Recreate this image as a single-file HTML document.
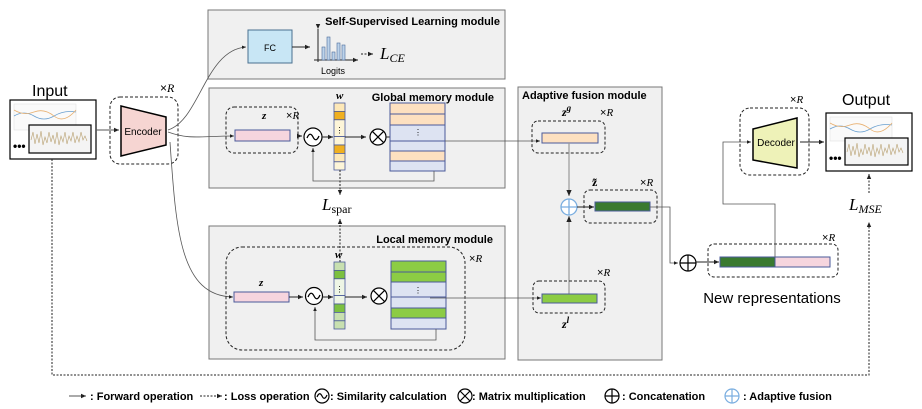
<!DOCTYPE html>
<html><head><meta charset="utf-8"><style>
html,body{margin:0;padding:0;background:#fff;}
svg{display:block;font-family:"Liberation Sans",sans-serif;}
.b{font-weight:bold;font-size:11px;}
.it{font-family:"Liberation Serif",serif;font-style:italic;}
</style></head><body>
<svg width="922" height="409" viewBox="0 0 922 409" xmlns="http://www.w3.org/2000/svg">
<defs>
<marker id="a" markerWidth="6" markerHeight="6" refX="5" refY="3" orient="auto"><path d="M0,0.8 L5,3 L0,5.2z" fill="#222"/></marker>
</defs>
<!-- module boxes -->
<rect x="208" y="10" width="297" height="69" fill="#f0f0f0" stroke="#777"/>
<rect x="209" y="88" width="296" height="100" fill="#f0f0f0" stroke="#777"/>
<rect x="209" y="226" width="296" height="133" fill="#f0f0f0" stroke="#777"/>
<rect x="518" y="87" width="144" height="273" fill="#f0f0f0" stroke="#777"/>
<text x="500" y="25" class="b" text-anchor="end">Self-Supervised Learning module</text>
<text x="494" y="101" class="b" text-anchor="end">Global memory module</text>
<text x="493" y="243" class="b" text-anchor="end">Local memory module</text>
<text x="522" y="99" class="b">Adaptive fusion module</text>

<!-- Input -->
<text x="32" y="96" font-size="16">Input</text>
<rect x="10" y="100" width="86" height="59" fill="#fff" stroke="#000" stroke-width="1.2"/>
<rect x="14" y="104" width="62" height="26" fill="#fafafa" stroke="#ddd" stroke-width="0.5"/>
<path d="M14,116 q10,-6 20,0 t20,0 t22,-4" fill="none" stroke="#6aa0d0" stroke-width="0.8"/>
<path d="M14,110 q10,6 20,2 t20,4 t22,-6" fill="none" stroke="#e8b070" stroke-width="0.8"/>
<rect x="29" y="125" width="62" height="28" fill="#f4f4f4" stroke="#000" stroke-width="1.2"/>
<path d="M31,140 l2,-8 l2,12 l2,-10 l2,9 l2,-12 l2,14 l2,-8 l2,6 l2,-11 l2,10 l2,-7 l2,9 l2,-12 l2,13 l2,-9 l2,6 l2,-10 l2,12 l2,-8 l2,5 l2,-9 l2,11 l2,-7 l2,6 l2,-10 l2,8 l2,-4 l2,5" fill="none" stroke="#b8a070" stroke-width="0.6"/>
<text x="13" y="150" font-size="12" font-weight="bold">•••</text>

<!-- Encoder -->
<rect x="110" y="97" width="68" height="67" rx="10" fill="none" stroke="#222" stroke-dasharray="3,2"/>
<text x="160" y="92" font-size="12"><tspan>×</tspan><tspan class="it">R</tspan></text>
<path d="M121,106 L166,117 L166,145 L121,156z" fill="#f6d5d2" stroke="#000" stroke-width="1.5"/>
<text x="143" y="135" font-size="10" text-anchor="middle">Encoder</text>
<line x1="96" y1="130" x2="119" y2="130" stroke="#555" marker-end="url(#a)"/>

<!-- encoder connections -->
<path d="M168,130 C200,120 205,50 246,47" fill="none" stroke="#555" stroke-width="0.8" marker-end="url(#a)"/>
<path d="M168,132 C190,140 200,136 234,136" fill="none" stroke="#555" stroke-width="0.8" marker-end="url(#a)"/>
<path d="M170,142 C176,230 180,296 233,297" fill="none" stroke="#555" stroke-width="0.8" marker-end="url(#a)"/>

<!-- SSL -->
<rect x="248" y="30" width="44" height="33" fill="#c8e6f5" stroke="#4a7090"/>
<text x="270" y="51" font-size="9" text-anchor="middle">FC</text>
<line x1="292" y1="47" x2="310" y2="47" stroke="#222" marker-end="url(#a)"/>
<line x1="318" y1="29" x2="318" y2="62" stroke="#222" marker-start="url(#a)"/>
<line x1="314" y1="60" x2="358" y2="60" stroke="#222" marker-end="url(#a)"/>
<g fill="#bcd3ea" stroke="#4a6a9a" stroke-width="0.6">
<rect x="322" y="47" width="3" height="13"/><rect x="327" y="37" width="3" height="23"/><rect x="332" y="52" width="3" height="8"/><rect x="337" y="43" width="3" height="17"/><rect x="342" y="45" width="3" height="15"/>
</g>
<text x="321" y="74" font-size="9">Logits</text>
<line x1="361" y1="54" x2="373" y2="54" stroke="#222" stroke-dasharray="2,1.5" marker-end="url(#a)"/>
<text x="380" y="59" font-size="17" class="it">L<tspan font-size="12" dy="3">CE</tspan></text>

<!-- Global -->
<text x="262" y="119" font-size="11" font-weight="bold" class="it">z</text>
<text x="286" y="119" font-size="11">×<tspan class="it">R</tspan></text>
<rect x="226" y="107" width="72" height="46" rx="8" fill="none" stroke="#222" stroke-dasharray="3,2"/>
<rect x="235" y="130" width="55" height="11" fill="#f6d5de" stroke="#4a5a9a"/>
<line x1="298" y1="136" x2="302" y2="136" stroke="#222" marker-end="url(#a)"/>
<circle cx="313" cy="137" r="9" fill="#fff" stroke="#000" stroke-width="1.2"/>
<path d="M307,138 q3,-7 6,-1 t6,-1" fill="none" stroke="#000" stroke-width="1.3"/>
<line x1="322" y1="137" x2="333" y2="137" stroke="#222" marker-end="url(#a)"/>
<text x="336" y="99" font-size="11" font-weight="bold" class="it">w</text>
<g stroke="#4a5a9a" stroke-width="0.8">
<rect x="334" y="103" width="11" height="8.4" fill="#fde8b8"/><rect x="334" y="111.4" width="11" height="8.4" fill="#f0b020"/><rect x="334" y="119.8" width="11" height="16.8" fill="#fdf5d8"/><rect x="334" y="136.6" width="11" height="8.4" fill="#fdf5d8"/><rect x="334" y="145" width="11" height="8.4" fill="#f0b020"/><rect x="334" y="153.4" width="11" height="8.4" fill="#fde8b8"/><rect x="334" y="161.8" width="11" height="8.2" fill="#fdf5d8"/>
</g>
<text x="339.5" y="133" font-size="8" text-anchor="middle">⋮</text>
<line x1="345" y1="137" x2="366" y2="137" stroke="#222" marker-end="url(#a)"/>
<circle cx="378" cy="137" r="8" fill="#fff" stroke="#000" stroke-width="1.2"/>
<path d="M372.3,131.3 L383.7,142.7 M383.7,131.3 L372.3,142.7" stroke="#000" stroke-width="1.2"/>
<line x1="386" y1="137" x2="390" y2="137" stroke="#222"/>
<g stroke="#4a5a9a" stroke-width="1">
<rect x="390" y="103" width="55" height="11" fill="#fde0c0"/><rect x="390" y="114" width="55" height="11" fill="#fde0c0"/><rect x="390" y="125" width="55" height="16" fill="#dde3f2"/><rect x="390" y="141" width="55" height="10" fill="#dde3f2"/><rect x="390" y="151" width="55" height="10" fill="#fde0c0"/><rect x="390" y="161" width="55" height="10" fill="#dde3f2"/>
</g>
<text x="418" y="135" font-size="8" text-anchor="middle">⋮</text>
<polyline points="434,171 434,181 313,181 313,148" fill="none" stroke="#555" stroke-width="0.8" marker-end="url(#a)"/>
<line x1="340" y1="170" x2="340" y2="195" stroke="#222" stroke-dasharray="2,1.5" marker-end="url(#a)"/>
<text x="322" y="210" font-size="17" class="it">L<tspan font-size="12" dy="3" font-style="normal">spar</tspan></text>
<line x1="340" y1="262" x2="340" y2="219" stroke="#222" stroke-dasharray="2,1.5" marker-end="url(#a)"/>
<line x1="445" y1="141" x2="540" y2="141" stroke="#555" stroke-width="0.8" marker-end="url(#a)"/>

<!-- Local -->
<rect x="226" y="247" width="239" height="103" rx="16" fill="none" stroke="#222" stroke-dasharray="3,2"/>
<text x="469" y="262" font-size="11">×<tspan class="it">R</tspan></text>
<text x="259" y="286" font-size="11" font-weight="bold" class="it">z</text>
<rect x="234" y="292" width="55" height="10" fill="#f6d5de" stroke="#4a5a9a"/>
<line x1="289" y1="297" x2="303" y2="297" stroke="#222" marker-end="url(#a)"/>
<circle cx="314" cy="296" r="8.5" fill="#fff" stroke="#000" stroke-width="1.2"/>
<path d="M308,297 q3,-7 6,-1 t6,-1" fill="none" stroke="#000" stroke-width="1.3"/>
<line x1="322" y1="297" x2="333" y2="297" stroke="#222" marker-end="url(#a)"/>
<text x="335" y="258" font-size="11" font-weight="bold" class="it">w</text>
<g stroke="#4a5a9a" stroke-width="0.8">
<rect x="334" y="262" width="11" height="8.4" fill="#c8e0b0"/><rect x="334" y="270.4" width="11" height="8.4" fill="#7cc040"/><rect x="334" y="278.8" width="11" height="16.8" fill="#eef5e5"/><rect x="334" y="295.6" width="11" height="8.4" fill="#eef5e5"/><rect x="334" y="304" width="11" height="8.4" fill="#7cc040"/><rect x="334" y="312.4" width="11" height="8.4" fill="#c8e0b0"/><rect x="334" y="320.8" width="11" height="8.2" fill="#c8e0b0"/>
</g>
<text x="339.5" y="292" font-size="8" text-anchor="middle">⋮</text>
<line x1="345" y1="297" x2="367" y2="297" stroke="#222" marker-end="url(#a)"/>
<circle cx="379" cy="296" r="8" fill="#fff" stroke="#000" stroke-width="1.2"/>
<path d="M373.3,290.3 L384.7,301.7 M384.7,290.3 L373.3,301.7" stroke="#000" stroke-width="1.2"/>
<g stroke="#4a5a9a" stroke-width="1">
<rect x="391" y="261" width="55" height="11" fill="#8ccc44"/><rect x="391" y="272" width="55" height="10" fill="#8ccc44"/><rect x="391" y="282" width="55" height="15" fill="#dde3f2"/><rect x="391" y="297" width="55" height="11" fill="#dde3f2"/><rect x="391" y="308" width="55" height="10" fill="#8ccc44"/><rect x="391" y="318" width="55" height="11" fill="#dde3f2"/>
</g>
<text x="418" y="293" font-size="8" text-anchor="middle">⋮</text>
<polyline points="436,329 436,340 315,340 315,307" fill="none" stroke="#555" stroke-width="0.8" marker-end="url(#a)"/>
<line x1="430" y1="298" x2="541" y2="298" stroke="#555" stroke-width="0.8" marker-end="url(#a)"/>

<!-- Adaptive fusion -->
<text x="562" y="116" font-size="12" font-weight="bold" font-family="Liberation Serif" font-style="italic">z<tspan font-size="9" dy="-5">g</tspan></text>
<text x="600" y="116" font-size="11">×<tspan class="it">R</tspan></text>
<rect x="532" y="121" width="73" height="32" rx="6" fill="none" stroke="#222" stroke-dasharray="3,2"/>
<rect x="542" y="133" width="56" height="10" fill="#fde0c0" stroke="#4a5a9a"/>
<line x1="569" y1="143" x2="569" y2="196" stroke="#999" stroke-width="1.2" marker-end="url(#a)"/>
<line x1="569" y1="294" x2="569" y2="216" stroke="#999" stroke-width="1.2" marker-end="url(#a)"/>
<circle cx="569" cy="207" r="8" fill="#fff" stroke="#7aaee0" stroke-width="1.3"/>
<path d="M561,207 H577 M569,199 V215" stroke="#7aaee0" stroke-width="1.3"/>
<line x1="577" y1="207" x2="594" y2="207" stroke="#222" marker-end="url(#a)"/>
<text x="592" y="186" font-size="12" font-weight="bold" font-family="Liberation Serif">z̃</text>
<text x="640" y="186" font-size="11">×<tspan class="it">R</tspan></text>
<rect x="584" y="190" width="73" height="33" rx="6" fill="none" stroke="#222" stroke-dasharray="3,2"/>
<rect x="595" y="202" width="55" height="9" fill="#3a7a30" stroke="#4a5a9a"/>
<text x="597" y="276" font-size="11">×<tspan class="it">R</tspan></text>
<rect x="533" y="281" width="72" height="32" rx="6" fill="none" stroke="#222" stroke-dasharray="3,2"/>
<rect x="542" y="294" width="55" height="9" fill="#8ccc44" stroke="#4a5a9a"/>
<text x="562" y="328" font-size="12" font-weight="bold" font-family="Liberation Serif" font-style="italic">z<tspan font-size="9" dy="-5">l</tspan></text>

<!-- concat -->
<polyline points="650,207 670,207 670,263 678,263" fill="none" stroke="#555" stroke-width="0.8" marker-end="url(#a)"/>
<circle cx="688" cy="263" r="8" fill="#fff" stroke="#000" stroke-width="1.2"/>
<path d="M680,263 H696 M688,255 V271" stroke="#000" stroke-width="1.2"/>
<line x1="696" y1="262" x2="719" y2="262" stroke="#222" marker-end="url(#a)"/>
<text x="822" y="241" font-size="11">×<tspan class="it">R</tspan></text>
<rect x="708" y="244" width="130" height="33" rx="6" fill="none" stroke="#222" stroke-dasharray="3,2"/>
<rect x="720" y="257" width="55" height="10" fill="#3a7a30" stroke="#4a5a9a"/>
<rect x="775" y="257" width="55" height="10" fill="#f6d5de" stroke="#4a5a9a"/>
<text x="772" y="303" font-size="15" text-anchor="middle">New representations</text>
<polyline points="775,257 775,204 723,204 723,142 751,142" fill="none" stroke="#555" stroke-width="0.8" marker-end="url(#a)"/>

<!-- Decoder -->
<text x="790" y="103" font-size="11">×<tspan class="it">R</tspan></text>
<rect x="740" y="108" width="69" height="67" rx="10" fill="none" stroke="#222" stroke-dasharray="3,2"/>
<path d="M753,129 L797,118 L797,168 L753,160z" fill="#eef2b8" stroke="#000" stroke-width="1.5"/>
<text x="776" y="146" font-size="10" text-anchor="middle">Decoder</text>
<line x1="800" y1="142" x2="824" y2="142" stroke="#222" marker-end="url(#a)"/>

<!-- Output -->
<text x="842" y="105" font-size="16">Output</text>
<rect x="826" y="113" width="86" height="58" fill="#fff" stroke="#000" stroke-width="1.2"/>
<rect x="830" y="117" width="62" height="24" fill="#fafafa" stroke="#ddd" stroke-width="0.5"/>
<path d="M830,129 q10,-6 20,0 t20,0 t22,-4" fill="none" stroke="#6aa0d0" stroke-width="0.8"/>
<path d="M830,123 q10,6 20,2 t20,4 t22,-6" fill="none" stroke="#e8b070" stroke-width="0.8"/>
<rect x="845" y="138" width="63" height="27" fill="#f4f4f4" stroke="#000" stroke-width="1.2"/>
<path d="M847,152 l2,-8 l2,12 l2,-10 l2,9 l2,-12 l2,14 l2,-8 l2,6 l2,-11 l2,10 l2,-7 l2,9 l2,-12 l2,13 l2,-9 l2,6 l2,-10 l2,12 l2,-8 l2,5 l2,-9 l2,11 l2,-7 l2,6 l2,-10 l2,8 l2,-4 l2,5" fill="none" stroke="#b8a070" stroke-width="0.6"/>
<text x="829" y="162" font-size="12" font-weight="bold">•••</text>

<!-- loss path -->
<polyline points="52,159 52,375 869,375 869,222" fill="none" stroke="#222" stroke-dasharray="2,1.5" marker-end="url(#a)"/>
<line x1="869" y1="193" x2="869" y2="174" stroke="#222" stroke-dasharray="2,1.5" marker-end="url(#a)"/>
<text x="849" y="210" font-size="17" class="it">L<tspan font-size="12" dy="3">MSE</tspan></text>

<!-- legend -->
<line x1="69" y1="396" x2="86" y2="396" stroke="#555" marker-end="url(#a)"/>
<text x="90" y="400" class="b">: Forward operation</text>
<line x1="200" y1="396" x2="222" y2="396" stroke="#222" stroke-dasharray="2,1.5" marker-end="url(#a)"/>
<text x="224" y="400" class="b">: Loss operation</text>
<circle cx="322" cy="396" r="7" fill="#fff" stroke="#000" stroke-width="1.2"/>
<path d="M317,397 q2.5,-6 5,-1 t5,-1" fill="none" stroke="#000" stroke-width="1.2"/>
<text x="330" y="400" class="b">: Similarity calculation</text>
<circle cx="465" cy="396" r="7" fill="#fff" stroke="#000" stroke-width="1.2"/>
<path d="M460,391 L470,401 M470,391 L460,401" stroke="#000" stroke-width="1.2"/>
<text x="472" y="400" class="b">: Matrix multiplication</text>
<circle cx="612" cy="396" r="7" fill="#fff" stroke="#000" stroke-width="1.2"/>
<path d="M605,396 H619 M612,389 V403" stroke="#000" stroke-width="1.2"/>
<text x="622" y="400" class="b">: Concatenation</text>
<circle cx="732" cy="396" r="7" fill="#fff" stroke="#7aaee0" stroke-width="1.2"/>
<path d="M725,396 H739 M732,389 V403" stroke="#7aaee0" stroke-width="1.2"/>
<text x="743" y="400" class="b">: Adaptive fusion</text>
</svg>
</body></html>
